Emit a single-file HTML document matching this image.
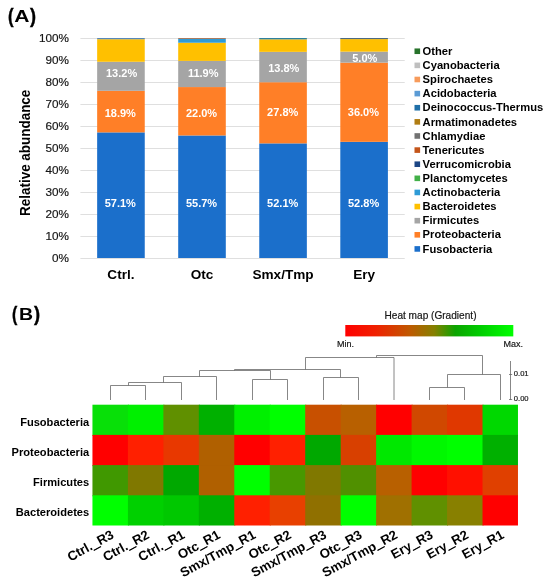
<!DOCTYPE html><html><head><meta charset="utf-8"><title>Figure</title><style>
html,body{margin:0;padding:0;background:#fff;}
svg{display:block;font-family:"Liberation Sans",Arial,Helvetica,sans-serif;}
.b{font-weight:bold;fill:#000;}
.t{fill:#151515;stroke:#151515;stroke-width:0.18px;}
</style></head><body>
<svg width="550" height="587" viewBox="0 0 550 587">
<rect width="550" height="587" fill="#fff"/>
<text class="b" font-size="100.0" stroke="#000" stroke-width="2.2" transform="translate(7.924,22.648) scale(0.1680,0.1953)">(</text><text class="b" font-size="100.0" transform="translate(14.346,21.750) scale(0.2106,0.1673)">A</text><text class="b" font-size="100.0" stroke="#000" stroke-width="2.2" transform="translate(30.082,22.648) scale(0.1807,0.1953)">)</text>
<rect x="80.4" y="258.00" width="324.3" height="1" fill="#dfdfdf"/>
<text class="t" font-size="11.3" text-anchor="end" transform="translate(69.0,261.80) scale(1.04,1)">0%</text>
<rect x="80.4" y="236.00" width="324.3" height="1" fill="#dfdfdf"/>
<text class="t" font-size="11.3" text-anchor="end" transform="translate(69.0,239.80) scale(1.04,1)">10%</text>
<rect x="80.4" y="214.00" width="324.3" height="1" fill="#dfdfdf"/>
<text class="t" font-size="11.3" text-anchor="end" transform="translate(69.0,217.80) scale(1.04,1)">20%</text>
<rect x="80.4" y="192.00" width="324.3" height="1" fill="#dfdfdf"/>
<text class="t" font-size="11.3" text-anchor="end" transform="translate(69.0,195.80) scale(1.04,1)">30%</text>
<rect x="80.4" y="170.00" width="324.3" height="1" fill="#dfdfdf"/>
<text class="t" font-size="11.3" text-anchor="end" transform="translate(69.0,173.80) scale(1.04,1)">40%</text>
<rect x="80.4" y="148.00" width="324.3" height="1" fill="#dfdfdf"/>
<text class="t" font-size="11.3" text-anchor="end" transform="translate(69.0,151.80) scale(1.04,1)">50%</text>
<rect x="80.4" y="126.00" width="324.3" height="1" fill="#dfdfdf"/>
<text class="t" font-size="11.3" text-anchor="end" transform="translate(69.0,129.80) scale(1.04,1)">60%</text>
<rect x="80.4" y="104.00" width="324.3" height="1" fill="#dfdfdf"/>
<text class="t" font-size="11.3" text-anchor="end" transform="translate(69.0,107.80) scale(1.04,1)">70%</text>
<rect x="80.4" y="82.00" width="324.3" height="1" fill="#dfdfdf"/>
<text class="t" font-size="11.3" text-anchor="end" transform="translate(69.0,85.80) scale(1.04,1)">80%</text>
<rect x="80.4" y="60.00" width="324.3" height="1" fill="#dfdfdf"/>
<text class="t" font-size="11.3" text-anchor="end" transform="translate(69.0,63.80) scale(1.04,1)">90%</text>
<rect x="80.4" y="38.00" width="324.3" height="1" fill="#dfdfdf"/>
<text class="t" font-size="11.3" text-anchor="end" transform="translate(69.0,41.80) scale(1.04,1)">100%</text>
<text class="b" font-size="13.45" text-anchor="middle" transform="translate(30.4,152.8) rotate(-90) scale(1,1.08)">Relative abundance</text>
<rect x="97.15" y="132.38" width="47.6" height="125.62" fill="#1b6fcb"/>
<rect x="97.15" y="90.80" width="47.6" height="41.58" fill="#ff7f27"/>
<rect x="97.15" y="61.76" width="47.6" height="29.04" fill="#a5a5a5"/>
<rect x="97.15" y="39.21" width="47.6" height="22.55" fill="#ffc000"/>
<rect x="97.15" y="38.00" width="47.6" height="1.21" fill="#5888b8"/>
<text x="120.30" y="206.70" font-size="11" font-weight="bold" fill="#fff" text-anchor="middle">57.1%</text>
<text x="120.30" y="116.50" font-size="11" font-weight="bold" fill="#fff" text-anchor="middle">18.9%</text>
<text x="121.60" y="77.30" font-size="11" font-weight="bold" fill="#fff" text-anchor="middle">13.2%</text>
<text class="b" x="120.95" y="278.8" font-size="13.6" text-anchor="middle">Ctrl.</text>
<rect x="178.20" y="135.46" width="47.6" height="122.54" fill="#1b6fcb"/>
<rect x="178.20" y="87.06" width="47.6" height="48.40" fill="#ff7f27"/>
<rect x="178.20" y="60.88" width="47.6" height="26.18" fill="#a5a5a5"/>
<rect x="178.20" y="42.73" width="47.6" height="18.15" fill="#ffc000"/>
<rect x="178.20" y="38.77" width="47.6" height="3.96" fill="#2e9bd6"/>
<rect x="178.20" y="38.00" width="47.6" height="0.77" fill="#a8623a"/>
<text x="201.50" y="206.70" font-size="11" font-weight="bold" fill="#fff" text-anchor="middle">55.7%</text>
<text x="201.50" y="116.50" font-size="11" font-weight="bold" fill="#fff" text-anchor="middle">22.0%</text>
<text x="203.20" y="77.30" font-size="11" font-weight="bold" fill="#fff" text-anchor="middle">11.9%</text>
<text class="b" x="202.00" y="278.8" font-size="13.6" text-anchor="middle">Otc</text>
<rect x="259.25" y="143.38" width="47.6" height="114.62" fill="#1b6fcb"/>
<rect x="259.25" y="82.22" width="47.6" height="61.16" fill="#ff7f27"/>
<rect x="259.25" y="51.86" width="47.6" height="30.36" fill="#a5a5a5"/>
<rect x="259.25" y="39.32" width="47.6" height="12.54" fill="#ffc000"/>
<rect x="259.25" y="38.00" width="47.6" height="1.32" fill="#2e809e"/>
<text x="282.70" y="206.70" font-size="11" font-weight="bold" fill="#fff" text-anchor="middle">52.1%</text>
<text x="282.70" y="116.40" font-size="11" font-weight="bold" fill="#fff" text-anchor="middle">27.8%</text>
<text x="283.80" y="71.90" font-size="11" font-weight="bold" fill="#fff" text-anchor="middle">13.8%</text>
<text class="b" x="283.05" y="278.8" font-size="13.6" text-anchor="middle">Smx/Tmp</text>
<rect x="340.30" y="141.84" width="47.6" height="116.16" fill="#1b6fcb"/>
<rect x="340.30" y="62.64" width="47.6" height="79.20" fill="#ff7f27"/>
<rect x="340.30" y="51.64" width="47.6" height="11.00" fill="#a5a5a5"/>
<rect x="340.30" y="39.10" width="47.6" height="12.54" fill="#ffc000"/>
<rect x="340.30" y="38.00" width="47.6" height="1.10" fill="#4d6a80"/>
<text x="363.60" y="206.70" font-size="11" font-weight="bold" fill="#fff" text-anchor="middle">52.8%</text>
<text x="363.40" y="116.40" font-size="11" font-weight="bold" fill="#fff" text-anchor="middle">36.0%</text>
<text x="364.80" y="61.80" font-size="11" font-weight="bold" fill="#fff" text-anchor="middle">5.0%</text>
<text class="b" x="364.10" y="278.8" font-size="13.6" text-anchor="middle">Ery</text>
<rect x="414.5" y="48.45" width="5.6" height="5.6" fill="#27722b"/>
<text class="b" x="422.6" y="54.90" font-size="11.2">Other</text>
<rect x="414.5" y="62.57" width="5.6" height="5.6" fill="#bfbfbf"/>
<text class="b" x="422.6" y="69.02" font-size="11.2">Cyanobacteria</text>
<rect x="414.5" y="76.69" width="5.6" height="5.6" fill="#f79b5b"/>
<text class="b" x="422.6" y="83.14" font-size="11.2">Spirochaetes</text>
<rect x="414.5" y="90.81" width="5.6" height="5.6" fill="#5b9bd5"/>
<text class="b" x="422.6" y="97.26" font-size="11.2">Acidobacteria</text>
<rect x="414.5" y="104.93" width="5.6" height="5.6" fill="#1f6fa8"/>
<text class="b" x="422.6" y="111.38" font-size="11.2">Deinococcus-Thermus</text>
<rect x="414.5" y="119.05" width="5.6" height="5.6" fill="#b07d12"/>
<text class="b" x="422.6" y="125.50" font-size="11.2">Armatimonadetes</text>
<rect x="414.5" y="133.17" width="5.6" height="5.6" fill="#727272"/>
<text class="b" x="422.6" y="139.62" font-size="11.2">Chlamydiae</text>
<rect x="414.5" y="147.29" width="5.6" height="5.6" fill="#c4551a"/>
<text class="b" x="422.6" y="153.74" font-size="11.2">Tenericutes</text>
<rect x="414.5" y="161.41" width="5.6" height="5.6" fill="#1c4685"/>
<text class="b" x="422.6" y="167.86" font-size="11.2">Verrucomicrobia</text>
<rect x="414.5" y="175.53" width="5.6" height="5.6" fill="#42b048"/>
<text class="b" x="422.6" y="181.98" font-size="11.2">Planctomycetes</text>
<rect x="414.5" y="189.65" width="5.6" height="5.6" fill="#2e9bd6"/>
<text class="b" x="422.6" y="196.10" font-size="11.2">Actinobacteria</text>
<rect x="414.5" y="203.77" width="5.6" height="5.6" fill="#ffc000"/>
<text class="b" x="422.6" y="210.22" font-size="11.2">Bacteroidetes</text>
<rect x="414.5" y="217.89" width="5.6" height="5.6" fill="#a5a5a5"/>
<text class="b" x="422.6" y="224.34" font-size="11.2">Firmicutes</text>
<rect x="414.5" y="232.01" width="5.6" height="5.6" fill="#ff7f27"/>
<text class="b" x="422.6" y="238.46" font-size="11.2">Proteobacteria</text>
<rect x="414.5" y="246.13" width="5.6" height="5.6" fill="#1b6fcb"/>
<text class="b" x="422.6" y="252.58" font-size="11.2">Fusobacteria</text>
<text class="b" font-size="100.0" stroke="#000" stroke-width="2.2" transform="translate(11.976,320.626) scale(0.1594,0.1963)">(</text><text class="b" font-size="100.0" transform="translate(18.895,320.200) scale(0.1951,0.1701)">B</text><text class="b" font-size="100.0" stroke="#000" stroke-width="2.2" transform="translate(34.032,320.626) scale(0.1825,0.1963)">)</text>
<defs><linearGradient id="g" x1="0" x2="1" y1="0" y2="0"><stop offset="0" stop-color="#ff0000"/><stop offset="0.18" stop-color="#f02000"/><stop offset="0.38" stop-color="#c05800"/><stop offset="0.53" stop-color="#858000"/><stop offset="0.655" stop-color="#0ca400"/><stop offset="0.8" stop-color="#00cc00"/><stop offset="1" stop-color="#00ff00"/></linearGradient></defs>
<rect x="345.3" y="325" width="168" height="11.4" fill="url(#g)"/>
<text class="t" x="430.5" y="318.8" font-size="10.1" text-anchor="middle">Heat map (Gradient)</text>
<text class="t" x="337" y="347.2" font-size="9">Min.</text>
<text class="t" x="503.4" y="347.2" font-size="9">Max.</text>
<rect x="92.45" y="404.70" width="36.46" height="31.20" fill="#08e008"/>
<rect x="127.91" y="404.70" width="36.46" height="31.20" fill="#00f000"/>
<rect x="163.37" y="404.70" width="36.46" height="31.20" fill="#609000"/>
<rect x="198.83" y="404.70" width="36.46" height="31.20" fill="#00b000"/>
<rect x="234.29" y="404.70" width="36.46" height="31.20" fill="#00f000"/>
<rect x="269.75" y="404.70" width="36.46" height="31.20" fill="#00ff00"/>
<rect x="305.21" y="404.70" width="36.46" height="31.20" fill="#c85000"/>
<rect x="340.67" y="404.70" width="36.46" height="31.20" fill="#b86000"/>
<rect x="376.13" y="404.70" width="36.46" height="31.20" fill="#ff0000"/>
<rect x="411.59" y="404.70" width="36.46" height="31.20" fill="#d04800"/>
<rect x="447.05" y="404.70" width="36.46" height="31.20" fill="#e03800"/>
<rect x="482.51" y="404.70" width="35.46" height="31.20" fill="#00d800"/>
<rect x="92.45" y="434.90" width="36.46" height="31.20" fill="#ff0000"/>
<rect x="127.91" y="434.90" width="36.46" height="31.20" fill="#ff2000"/>
<rect x="163.37" y="434.90" width="36.46" height="31.20" fill="#e83800"/>
<rect x="198.83" y="434.90" width="36.46" height="31.20" fill="#b06000"/>
<rect x="234.29" y="434.90" width="36.46" height="31.20" fill="#ff0000"/>
<rect x="269.75" y="434.90" width="36.46" height="31.20" fill="#ff2000"/>
<rect x="305.21" y="434.90" width="36.46" height="31.20" fill="#00a800"/>
<rect x="340.67" y="434.90" width="36.46" height="31.20" fill="#d84000"/>
<rect x="376.13" y="434.90" width="36.46" height="31.20" fill="#00e800"/>
<rect x="411.59" y="434.90" width="36.46" height="31.20" fill="#00f800"/>
<rect x="447.05" y="434.90" width="36.46" height="31.20" fill="#00ff00"/>
<rect x="482.51" y="434.90" width="35.46" height="31.20" fill="#00b000"/>
<rect x="92.45" y="465.10" width="36.46" height="31.20" fill="#409800"/>
<rect x="127.91" y="465.10" width="36.46" height="31.20" fill="#807800"/>
<rect x="163.37" y="465.10" width="36.46" height="31.20" fill="#00a800"/>
<rect x="198.83" y="465.10" width="36.46" height="31.20" fill="#b06000"/>
<rect x="234.29" y="465.10" width="36.46" height="31.20" fill="#00ff00"/>
<rect x="269.75" y="465.10" width="36.46" height="31.20" fill="#489800"/>
<rect x="305.21" y="465.10" width="36.46" height="31.20" fill="#807800"/>
<rect x="340.67" y="465.10" width="36.46" height="31.20" fill="#509000"/>
<rect x="376.13" y="465.10" width="36.46" height="31.20" fill="#b86000"/>
<rect x="411.59" y="465.10" width="36.46" height="31.20" fill="#ff0000"/>
<rect x="447.05" y="465.10" width="36.46" height="31.20" fill="#ff1000"/>
<rect x="482.51" y="465.10" width="35.46" height="31.20" fill="#e04000"/>
<rect x="92.45" y="495.30" width="36.46" height="30.20" fill="#00ff00"/>
<rect x="127.91" y="495.30" width="36.46" height="30.20" fill="#00d000"/>
<rect x="163.37" y="495.30" width="36.46" height="30.20" fill="#00c800"/>
<rect x="198.83" y="495.30" width="36.46" height="30.20" fill="#00b000"/>
<rect x="234.29" y="495.30" width="36.46" height="30.20" fill="#ff2000"/>
<rect x="269.75" y="495.30" width="36.46" height="30.20" fill="#e84000"/>
<rect x="305.21" y="495.30" width="36.46" height="30.20" fill="#907000"/>
<rect x="340.67" y="495.30" width="36.46" height="30.20" fill="#00ff00"/>
<rect x="376.13" y="495.30" width="36.46" height="30.20" fill="#a07000"/>
<rect x="411.59" y="495.30" width="36.46" height="30.20" fill="#609000"/>
<rect x="447.05" y="495.30" width="36.46" height="30.20" fill="#888000"/>
<rect x="482.51" y="495.30" width="35.46" height="30.20" fill="#ff0000"/>
<text class="b" x="89.2" y="425.50" font-size="11.1" text-anchor="end">Fusobacteria</text>
<text class="b" x="89.2" y="455.70" font-size="11.1" text-anchor="end">Proteobacteria</text>
<text class="b" x="89.2" y="485.90" font-size="11.1" text-anchor="end">Firmicutes</text>
<text class="b" x="89.2" y="516.10" font-size="11.1" text-anchor="end">Bacteroidetes</text>
<text class="b" font-size="13.2" text-anchor="end" transform="translate(114.78,537.40) rotate(-28.7)">Ctrl.<tspan stroke="#000" stroke-width="0.7">_</tspan>R3</text>
<text class="b" font-size="13.2" text-anchor="end" transform="translate(150.24,537.40) rotate(-28.7)">Ctrl.<tspan stroke="#000" stroke-width="0.7">_</tspan>R2</text>
<text class="b" font-size="13.2" text-anchor="end" transform="translate(185.70,537.40) rotate(-28.7)">Ctrl.<tspan stroke="#000" stroke-width="0.7">_</tspan>R1</text>
<text class="b" font-size="13.2" text-anchor="end" transform="translate(221.16,537.40) rotate(-28.7)">Otc<tspan stroke="#000" stroke-width="0.7">_</tspan>R1</text>
<text class="b" font-size="13.2" text-anchor="end" transform="translate(256.62,537.40) rotate(-28.7)">Smx/Tmp<tspan stroke="#000" stroke-width="0.7">_</tspan>R1</text>
<text class="b" font-size="13.2" text-anchor="end" transform="translate(292.08,537.40) rotate(-28.7)">Otc<tspan stroke="#000" stroke-width="0.7">_</tspan>R2</text>
<text class="b" font-size="13.2" text-anchor="end" transform="translate(327.54,537.40) rotate(-28.7)">Smx/Tmp<tspan stroke="#000" stroke-width="0.7">_</tspan>R3</text>
<text class="b" font-size="13.2" text-anchor="end" transform="translate(363.00,537.40) rotate(-28.7)">Otc<tspan stroke="#000" stroke-width="0.7">_</tspan>R3</text>
<text class="b" font-size="13.2" text-anchor="end" transform="translate(398.46,537.40) rotate(-28.7)">Smx/Tmp<tspan stroke="#000" stroke-width="0.7">_</tspan>R2</text>
<text class="b" font-size="13.2" text-anchor="end" transform="translate(433.92,537.40) rotate(-28.7)">Ery<tspan stroke="#000" stroke-width="0.7">_</tspan>R3</text>
<text class="b" font-size="13.2" text-anchor="end" transform="translate(469.38,537.40) rotate(-28.7)">Ery<tspan stroke="#000" stroke-width="0.7">_</tspan>R2</text>
<text class="b" font-size="13.2" text-anchor="end" transform="translate(504.84,537.40) rotate(-28.7)">Ery<tspan stroke="#000" stroke-width="0.7">_</tspan>R1</text>
<path d="M110.50 400.00V385.50H145.50V400.00M128.50 385.50V382.50H181.50V400.00M163.50 382.50V376.50H216.50V400.00M252.50 400.00V379.50H287.50V400.00M199.50 376.50V370.50H270.50V379.50M323.50 400.00V377.50H358.50V400.00M234.50 370.50V369.50H340.50V377.50M305.50 369.50V357.50H394.00V400.00M429.50 400.00V387.50H464.50V400.00M447.50 387.50V374.50H500.50V400.00M376.50 357.50V355.50H482.50V374.50" fill="none" stroke="#686868" stroke-width="0.8"/>
<path d="M510.5 361V400M509 374.5H512.2M509 399.5H512.2" fill="none" stroke="#686868" stroke-width="0.8"/>
<text class="t" x="513.8" y="376.1" font-size="7.6">0.01</text>
<text class="t" x="513.8" y="401.3" font-size="7.6">0.00</text>
</svg></body></html>
